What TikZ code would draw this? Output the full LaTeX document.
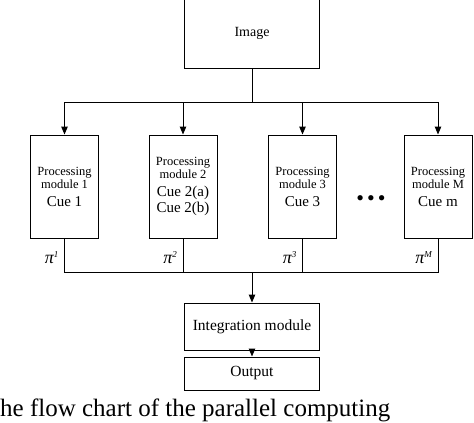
\documentclass[tikz,border=0pt]{standalone}
\usepackage{fontspec}
\setmainfont{Liberation Serif}
\usepackage{tikz}
\usetikzlibrary{arrows.meta, positioning, calc}

\newcommand{\cuefont}{\fontsize{15}{17}\selectfont}
\newcommand{\weight}[1]{{\itshape π}\raisebox{6pt}{\fontsize{9}{9}\selectfont\itshape #1}}

\begin{document}
\begin{tikzpicture}[x=1pt, y=-1pt,
    box/.style={draw, line width=1pt, inner sep=0pt, align=center},
    modbox/.style={box, minimum width=68pt, minimum height=103pt, font=\fontsize{12.5}{13.5}\selectfont},
    arr/.style={line width=1pt, -{Triangle[length=8pt,width=6.5pt]}},
    link/.style={line width=1pt},
    pilabel/.style={anchor=east, inner sep=0pt, font=\fontsize{18}{18}\selectfont}]
    \useasboundingbox (0,0) rectangle (474,423);

    % top and bottom boxes
    \node[box, minimum width=135pt, minimum height=69pt, font=\fontsize{14}{15}\selectfont] (img) at (252,33.5) {Image};
    \node[box, minimum width=135pt, minimum height=47pt, font=\fontsize{15.5}{16}\selectfont] (integ) at (252,326.5) {Integration module};
    \node[box, minimum width=135pt, minimum height=33pt, font=\fontsize{15.5}{16}\selectfont] (out) at (252,373.5) {Output};

    % processing modules
    \node[modbox] (m1) at (64.5,186.5) {Processing\\module 1\\[4pt]\cuefont Cue 1};
    \node[modbox] (m2) at (183,186.5) {Processing\\module 2\\[4pt]\cuefont Cue 2(a)\\[2pt]\cuefont Cue 2(b)};
    \node[modbox] (m3) at (302.5,186.5) {Processing\\module 3\\[4pt]\cuefont Cue 3};
    \node[modbox] (m4) at (438,186.5) {Processing\\module M\\[4pt]\cuefont Cue m};
    \node[font=\fontsize{22}{22}\selectfont, inner sep=0pt] (dots) at (371,201) {•\hspace{3pt}•\hspace{3pt}•};

    % split to the modules
    \coordinate (split) at (252,102);
    \draw[link] (img) -- (split);
    \draw[arr] (split) -| (m1);
    \draw[arr] (split) -| (m2);
    \draw[arr] (split) -| (m3);
    \draw[arr] (split) -| (m4);

    % join to integration
    \coordinate (join) at (252,272);
    \draw[link] (m1) |- (join);
    \draw[link] (m4) |- (join);
    \draw[link] (m2) -- (m2 |- join);
    \draw[link] (m3) -- (m3 |- join);
    \draw[arr] (join) -- (integ);
    \draw[arr] (integ) -- (out);

    % weights
    \node[pilabel] (pi1) at ($(m1.south)+(-6,19)$) {\weight{1}};
    \node[pilabel] (pi2) at ($(m2.south)+(-6,19)$) {\weight{2}};
    \node[pilabel] (pi3) at ($(m3.south)+(-6,19)$) {\weight{3}};
    \node[pilabel] (piM) at ($(m4.south)+(-6,19)$) {\weight{M}};

    \node[anchor=base west, inner sep=0pt, font=\fontsize{25}{25}\selectfont] (cap) at (0,416) {he flow chart of the parallel computing};
\end{tikzpicture}
\end{document}
